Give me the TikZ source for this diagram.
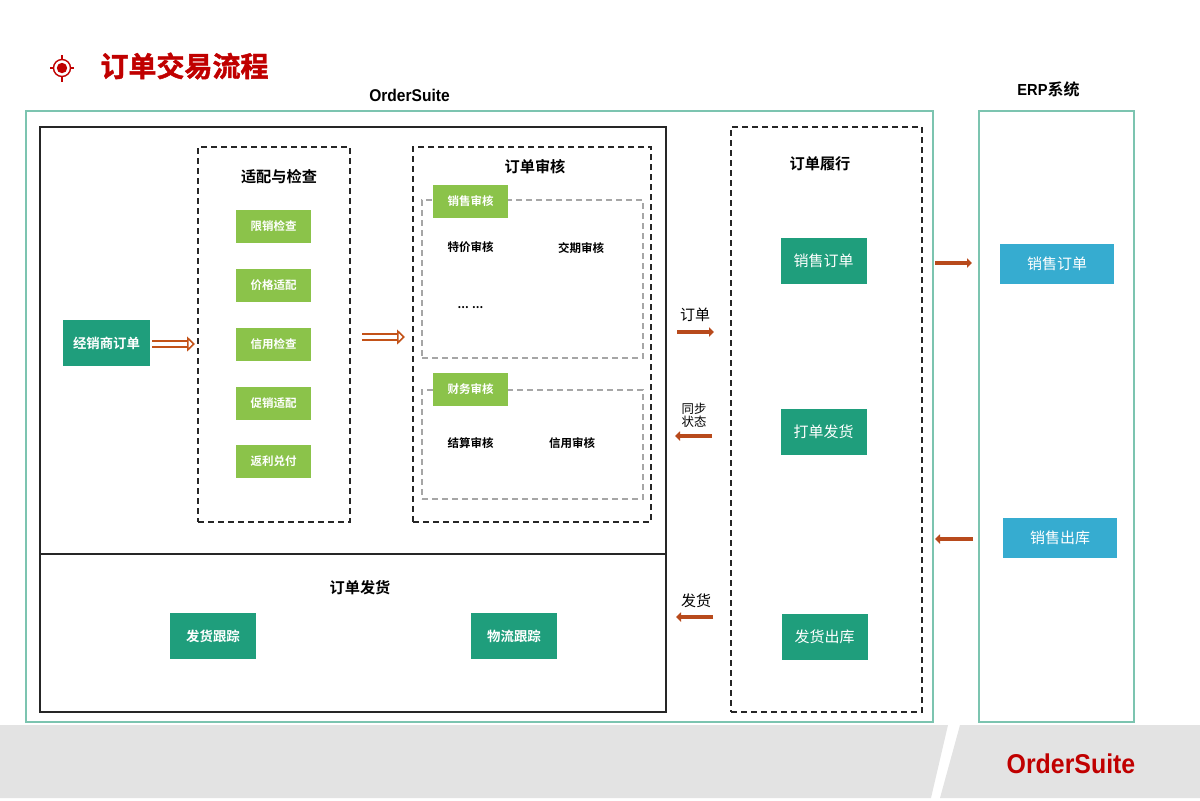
\documentclass[tikz,border=0pt]{standalone}
\usepackage{fontspec}
\setmainfont{Liberation Sans}
\newfontfamily\cjk{Noto Sans CJK SC}
\newfontfamily\cjkb{Noto Sans CJK SC Bold}
\newfontfamily\cjkt[FakeBold=1.5]{Noto Sans CJK SC Bold}
\newfontfamily\narrowb[FakeStretch=0.915]{Liberation Sans Bold}
\usetikzlibrary{arrows.meta}
\definecolor{suitered}{HTML}{C00000}
\definecolor{suiteline}{HTML}{7CC4B0}
\definecolor{suiteteal}{HTML}{1F9E7C}
\definecolor{suitegreen}{HTML}{8BC34A}
\definecolor{suiteblue}{HTML}{36ACD0}
\definecolor{suiterust}{HTML}{B84A1C}
\definecolor{suitegray}{HTML}{E3E3E3}
\tikzset{>=latex}
\tikzset{
    tealbox/.style={fill=suiteteal, text=white, inner sep=0pt, minimum width=43pt, minimum height=23pt},
    greenbox/.style={fill=suitegreen, text=white, inner sep=0pt, minimum width=37.5pt, minimum height=16.5pt, font=\cjkb\fontsize{5.75pt}{7pt}\selectfont},
    bluebox/.style={fill=suiteblue, text=white, inner sep=0pt, minimum width=57pt, minimum height=20pt, font=\cjk\fontsize{7.5pt}{9pt}\selectfont},
    frameline/.style={draw=suiteline, line width=0.8pt, inner sep=0pt},
    mainline/.style={draw=black!85, line width=0.9pt, inner sep=0pt},
    dashline/.style={draw=black!85, line width=0.8pt, dash pattern=on 3pt off 2pt, inner sep=0pt},
    grayline/.style={draw=gray!70, line width=0.8pt, dash pattern=on 3pt off 2pt, inner sep=0pt},
    heading/.style={font=\cjkb\fontsize{7.6pt}{9pt}\selectfont},
    review/.style={font=\cjkb\fontsize{5.75pt}{7pt}\selectfont},
    flow/.style={draw=suiterust, line width=2.2pt, -{Triangle[length=2.5pt,width=4.6pt]}},
    hollowflow/.style={draw=suiterust!85!orange, line width=1pt, double=white, double distance=2pt, -{Triangle[open,fill=white,length=4pt,width=7.5pt,line width=0.8pt]}}
}

\begin{document}
\begin{tikzpicture}[x=0.5pt, y=-0.5pt]
    \useasboundingbox (0,0) rectangle (1200,800);
    % footer
    \fill[suitegray] (0,725) -- (948,725) -- (931,798) -- (0,798) -- cycle;
    \fill[suitegray] (960,725) -- (1200,725) -- (1200,798) -- (940,798) -- cycle;
    \node[text=suitered, font=\narrowb\fontsize{13.6pt}{16pt}\selectfont] (brand) at (1071,764) {OrderSuite};

    % title
    \draw[suitered, line width=0.7pt] (62,68) circle (8.5);
    \fill[suitered] (62,68) circle (5.2);
    \draw[suitered, line width=0.6pt] (62,55) -- (62,59.5) (62,76.5) -- (62,82) (50,68) -- (53.5,68) (70.5,68) -- (74,68);
    \node[text=suitered, font=\cjkt\fontsize{14pt}{16pt}\selectfont] (title) at (184.5,66) {订单交易流程};

    % frames
    \node[frameline, minimum width=453.5pt, minimum height=305.5pt] (suite) at (479.5,416.5) {};
    \node[frameline, minimum width=77.5pt, minimum height=305.5pt] (erp) at (1056.5,416.5) {};
    \node[font=\narrowb\fontsize{8.5pt}{10pt}\selectfont] (suitename) at (409.5,95) {OrderSuite};
    \node[font=\narrowb\fontsize{8pt}{9pt}\selectfont] (erpname) at (1048.5,89) {ERP\cjkb 系统};

    \node[mainline, minimum width=313pt, minimum height=213.5pt] (orders) at (353,340.5) {};
    \node[mainline, minimum width=313pt, minimum height=79pt] (ship) at (353,633) {};
    \node[dashline, minimum width=76pt, minimum height=187.5pt] (adapt) at (274,334.5) {};
    \node[dashline, minimum width=119pt, minimum height=187.5pt] (audit) at (532,334.5) {};
    \node[dashline, minimum width=95.5pt, minimum height=292.5pt] (fulfil) at (826.5,419.5) {};
    \node[grayline, minimum width=110.5pt, minimum height=79pt] (salesbox) at (532.5,279) {};
    \node[grayline, minimum width=110.5pt, minimum height=54.5pt] (financebox) at (532.5,444.5) {};

    % left part
    \node[tealbox, font=\cjkb\fontsize{6.7pt}{8pt}\selectfont, minimum width=43.5pt] (dealer) at (106.5,343) {经销商订单};
    \node[heading] (adapttitle) at (279,177) {适配与检查};
    \node[greenbox] (limit) at (273.5,226.5) {限销检查};
    \node[greenbox] (price) at (273.5,285.5) {价格适配};
    \node[greenbox] (credit) at (273.5,344.5) {信用检查};
    \node[greenbox] (promo) at (273.5,403.5) {促销适配};
    \node[greenbox] (rebate) at (273.5,461.5) {返利兑付};

    % audit
    \node[heading] (audittitle) at (535,167) {订单审核};
    \node[greenbox] (salestag) at (470.5,201.5) {销售审核};
    \node[greenbox] (financetag) at (470.5,389) {财务审核};
    \node[review] (special) at (470.5,247) {特价审核};
    \node[review] (delivery) at (581,248) {交期审核};
    \node[review] (more) at (470.5,308) {... ...};
    \node[review] (settle) at (470.5,443) {结算审核};
    \node[review] (creditaudit) at (572,443) {信用审核};

    % shipping
    \node[heading] (shiptitle) at (360,588) {订单发货};
    \node[tealbox, font=\cjkb\fontsize{6.7pt}{8pt}\selectfont] (track) at (213,636) {发货跟踪};
    \node[tealbox, font=\cjkb\fontsize{6.7pt}{8pt}\selectfont] (logistics) at (514,636) {物流跟踪};

    % fulfilment
    \node[heading] (fulfiltitle) at (820,164) {订单履行};
    \node[tealbox, font=\cjk\fontsize{7.5pt}{9pt}\selectfont] (salesorder) at (823.5,261) {销售订单};
    \node[tealbox, font=\cjk\fontsize{7.5pt}{9pt}\selectfont] (printship) at (823.5,431.5) {打单发货};
    \node[tealbox, font=\cjk\fontsize{7.5pt}{9pt}\selectfont] (outbound) at (824.5,636.5) {发货出库};

    % erp
    \node[bluebox] (erporder) at (1057,264) {销售订单};
    \node[bluebox] (erpout) at (1060,538) {销售出库};

    % labels
    \node[font=\cjk\fontsize{7.5pt}{9pt}\selectfont] (orderlabel) at (695,315) {订单};
    \node[font=\cjk\fontsize{6.2pt}{6.5pt}\selectfont, align=center] (synclabel) at (694,415.5) {同步\\状态};
    \node[font=\cjk\fontsize{7.5pt}{9pt}\selectfont] (shiplabel) at (696,601) {发货};

    % arrows
    \coordinate (orderstart) at (677,332);
    \coordinate (orderend) at (714,332);
    \coordinate (syncstart) at (712,436);
    \coordinate (syncend) at (675,436);
    \coordinate (shipstart) at (713,617);
    \coordinate (shipend) at (676,617);
    \coordinate (erpstart) at (935,263);
    \coordinate (erpend) at (972,263);
    \coordinate (backstart) at (973,539);
    \coordinate (backend) at (935,539);
    \coordinate (dealerstart) at (152,344);
    \coordinate (dealerend) at (195,344);
    \coordinate (adaptstart) at (362,337);
    \coordinate (adaptend) at (405,337);
    \draw[flow] (orderstart) -- (orderend);
    \draw[flow] (syncstart) -- (syncend);
    \draw[flow] (shipstart) -- (shipend);
    \draw[flow] (erpstart) -- (erpend);
    \draw[flow] (backstart) -- (backend);
    \draw[hollowflow] (dealerstart) -- (dealerend);
    \draw[hollowflow] (adaptstart) -- (adaptend);
\end{tikzpicture}
\end{document}
